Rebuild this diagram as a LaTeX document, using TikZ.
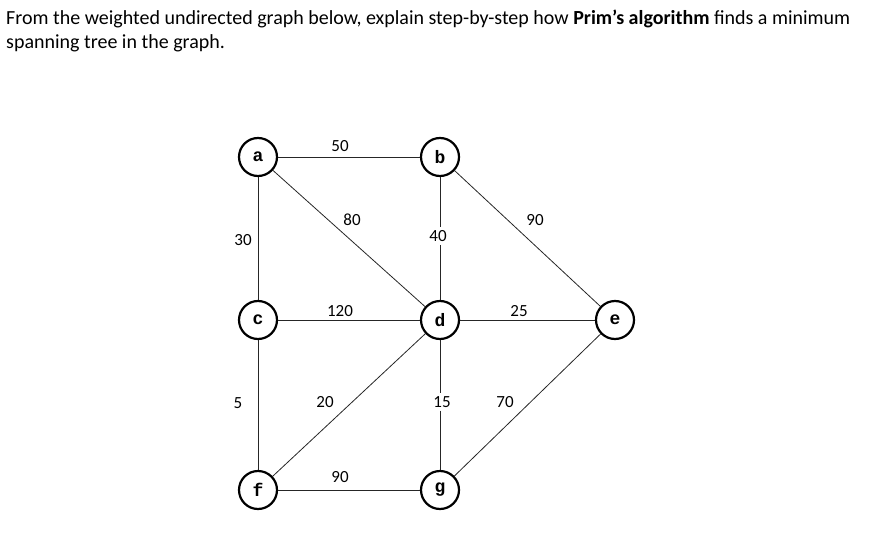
\documentclass[tikz,border=0pt]{standalone}
\usepackage{fontspec}
\setmainfont{Carlito}
\newfontfamily\monob{Liberation Mono}
\begin{document}
\begin{tikzpicture}[x=1pt,y=-1pt,
  vtx/.style={circle,draw,line width=2.2pt,minimum size=38pt,inner sep=0pt,font=\monob\bfseries\fontsize{18}{18}\selectfont,fill=white},
  edge/.style={draw=black!85,line width=0.8pt},
  wl/.style={font=\fontsize{17}{17}\selectfont,inner sep=1pt}]
\useasboundingbox (0,0) rectangle (869,540);
\node[anchor=north west,align=left,font=\fontsize{20}{24}\selectfont,inner sep=0pt] (title) at (6,10)
 {From the weighted undirected graph below, explain step-by-step how \textbf{Prim’s algorithm} finds a minimum\\spanning tree in the graph.};
\node[vtx] (a) at (258,157) {a};
\node[vtx] (b) at (440,157) {b};
\node[vtx] (c) at (258,320) {c};
\node[vtx] (d) at (440,320) {d};
\node[vtx] (e) at (615,320) {e};
\node[vtx] (f) at (258,490) {f};
\node[vtx] (g) at (440,490) {g};
\node[wl] (l50) at (340,146) {50};
\node[wl] (l30) at (243,240) {30};
\node[wl] (l80) at (352,220) {80};
\node[wl,inner sep=3pt] (l40) at (438,236) {40};
\node[wl] (l90a) at (535,220) {90};
\node[wl] (l120) at (340,311) {120};
\node[wl] (l25) at (519,311) {25};
\node[wl] (l5) at (238,403) {5};
\node[wl] (l20) at (325,402) {20};
\node[wl,inner sep=3pt] (l15) at (442,402) {15};
\node[wl] (l70) at (505,402) {70};
\node[wl] (l90b) at (340,477) {90};
\draw[edge] (a) -- (b);
\draw[edge] (a) -- (c);
\draw[edge] (a) -- (d);
\draw[edge] (b) -- (b|-l40.north);
\draw[edge] (d|-l40.south) -- (d);
\draw[edge] (b) -- (e);
\draw[edge] (c) -- (d);
\draw[edge] (d) -- (e);
\draw[edge] (c) -- (f);
\draw[edge] (f) -- (d);
\draw[edge] (d) -- (d|-l15.north);
\draw[edge] (g|-l15.south) -- (g);
\draw[edge] (g) -- (e);
\draw[edge] (f) -- (g);
\end{tikzpicture}
\end{document}
